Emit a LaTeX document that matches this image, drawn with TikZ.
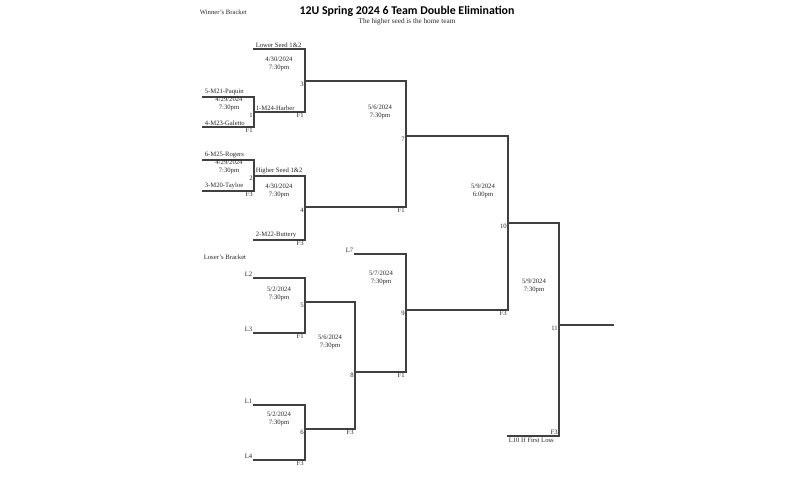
\documentclass[tikz,border=0pt]{standalone}
\usepackage{fontspec}
\setmainfont{Liberation Serif}
\newfontfamily\titlefont{Carlito}
\begin{document}
\begin{tikzpicture}[x=0.75pt,y=-0.75pt,
  ln/.style={line width=0.9pt,draw=black!75,line cap=rect},
  txt/.style={font=\fontsize{5}{6}\selectfont,inner sep=0.4pt,text=black!85},
  dt/.style={txt,align=center,anchor=north},
  num/.style={txt,anchor=north east},
  fl/.style={txt,anchor=north east},
  tm/.style={txt,anchor=south west}]
\useasboundingbox (0,0) rectangle (805,500);
% headings
\node[txt,anchor=west] (wb) at (199,12) {Winner's Bracket};
\node[font=\titlefont\bfseries\fontsize{8.9}{11}\selectfont,inner sep=0pt] (title) at (407,11) {12U Spring 2024 6 Team Double Elimination};
\node[txt,font=\fontsize{5.4}{6}\selectfont] (sub) at (407,21.5) {The higher seed is the home team};
\node[txt,anchor=west] (lb) at (203,257.5) {Loser's Bracket};
% ---------- coordinates ----------
% match 1
\coordinate (a1) at (203,97); \coordinate (b1) at (254,97);
\coordinate (c1) at (254,127); \coordinate (d1) at (203,127);
\coordinate (o1) at (254,112);
% match 2
\coordinate (a2) at (203,160); \coordinate (b2) at (254,160);
\coordinate (c2) at (254,191); \coordinate (d2) at (203,191);
\coordinate (o2) at (254,176);
% match 3
\coordinate (a3) at (254,49); \coordinate (b3) at (305,49);
\coordinate (c3) at (305,112); \coordinate (o3) at (305,81);
% match 4
\coordinate (b4) at (305,176); \coordinate (c4) at (305,240);
\coordinate (d4) at (254,240); \coordinate (o4) at (305,207);
% match 7
\coordinate (b7) at (406,81); \coordinate (c7) at (406,207);
\coordinate (o7) at (406,136);
% match 10
\coordinate (b10) at (508,136); \coordinate (c10) at (508,310);
\coordinate (o10) at (508,223);
% match 11
\coordinate (b11) at (559,223); \coordinate (c11) at (559,436);
\coordinate (d11) at (508,436); \coordinate (o11) at (559,325);
\coordinate (e11) at (613,325);
% match 5
\coordinate (a5) at (254,278); \coordinate (b5) at (305,278);
\coordinate (c5) at (305,333); \coordinate (d5) at (254,333);
\coordinate (o5) at (305,302);
% match 6
\coordinate (a6) at (254,405); \coordinate (b6) at (305,405);
\coordinate (c6) at (305,460); \coordinate (d6) at (254,460);
\coordinate (o6) at (305,429);
% match 8
\coordinate (b8) at (355,302); \coordinate (c8) at (355,429);
\coordinate (o8) at (355,372);
% match 9
\coordinate (a9) at (355,254); \coordinate (b9) at (406,254);
\coordinate (c9) at (406,372); \coordinate (o9) at (406,310);
% ---------- lines ----------
\draw[ln] (a1) -- (b1) -- (c1) -- (d1);
\draw[ln] (a2) -- (b2) -- (c2) -- (d2);
\draw[ln] (a3) -- (b3) -- (c3) -- (o1);
\draw[ln] (o2) -- (b4) -- (c4) -- (d4);
\draw[ln] (o3) -- (b7) -- (c7) -- (o4);
\draw[ln] (o7) -- (b10) -- (c10) -- (o9);
\draw[ln] (o10) -- (b11) -- (c11) -- (d11);
\draw[ln] (o11) -- (e11);
\draw[ln] (a5) -- (b5) -- (c5) -- (d5);
\draw[ln] (a6) -- (b6) -- (c6) -- (d6);
\draw[ln] (o5) -- (b8) -- (c8) -- (o6);
\draw[ln] (a9) -- (b9) -- (c9) -- (o8);
% ---------- labels ----------
% match 3
\node[tm] (t3a) at (255,48) {Lower Seed 1\&2};
\node[dt] (d3) at (279,56.5) {4/30/2024\\7:30pm};
\node[num] (n3) at (304.5,81.5) {3};
\node[fl] (f3) at (304.5,112.5) {F1};
% match 1
\node[tm] (t1a) at (204,96) {5-M21-Paquin};
\node[dt] (dd1) at (229,96) {4/29/2024\\7:30pm};
\node[tm] (t1w) at (255,111) {1-M24-Harber};
\node[num] (n1) at (253.5,112.5) {1};
\node[fl] (f1) at (253.5,127.5) {F1};
\node[tm] (t1b) at (204,126) {4-M23-Galetto};
% match 2
\node[tm] (t2a) at (204,159) {6-M25-Rogers};
\node[dt] (dd2) at (229,159) {4/29/2024\\7:30pm};
\node[tm] (t2w) at (255,175) {Higher Seed 1\&2};
\node[num] (n2) at (253.5,175.5) {2};
\node[tm] (t2b) at (204,190) {3-M20-Tayloe};
\node[fl] (f2) at (253.5,191.5) {F3};
% match 4
\node[dt] (dd4) at (279,183) {4/30/2024\\7:30pm};
\node[num] (n4) at (304.5,207.5) {4};
\node[tm] (t4b) at (255,239) {2-M22-Buttery};
\node[fl] (f4) at (304.5,240.5) {F3};
% match 7
\node[dt] (dd7) at (380,104) {5/6/2024\\7:30pm};
\node[num] (n7) at (405.5,136.5) {7};
\node[fl] (f7) at (405.5,207.5) {F1};
% match 10
\node[dt] (dd10) at (483,183.5) {5/9/2024\\6:00pm};
\node[num] (n10) at (507.5,223.5) {10};
\node[fl] (f10) at (507.5,310.5) {F3};
% match 11
\node[dt] (dd11) at (534,278) {5/9/2024\\7:30pm};
\node[num] (n11) at (558.5,325.5) {11};
\node[txt,anchor=south east] (f11) at (558.5,435) {F3};
\node[txt,anchor=north west] (t11b) at (508,436.5) {L10 If First Loss};
% match 5
\node[txt,anchor=south east] (t5a) at (253,277) {L2};
\node[dt] (dd5) at (279,286) {5/2/2024\\7:30pm};
\node[num] (n5) at (304.5,302.5) {5};
\node[txt,anchor=south east] (t5b) at (253,332) {L3};
\node[fl] (f5) at (304.5,333.5) {F1};
% match 6
\node[txt,anchor=south east] (t6a) at (253,404) {L1};
\node[dt] (dd6) at (279,411) {5/2/2024\\7:30pm};
\node[num] (n6) at (304.5,429.5) {6};
\node[txt,anchor=south east] (t6b) at (253,459) {L4};
\node[fl] (f6) at (304.5,460.5) {F3};
% match 8
\node[dt] (dd8) at (330,334) {5/6/2024\\7:30pm};
\node[num] (n8) at (354.5,372.5) {8};
\node[fl] (f8) at (354.5,429.5) {F3};
% match 9
\node[txt,anchor=south east] (t9a) at (354,253) {L7};
\node[dt] (dd9) at (381,270) {5/7/2024\\7:30pm};
\node[num] (n9) at (405.5,310.5) {9};
\node[fl] (f9) at (405.5,372.5) {F1};
\end{tikzpicture}
\end{document}
